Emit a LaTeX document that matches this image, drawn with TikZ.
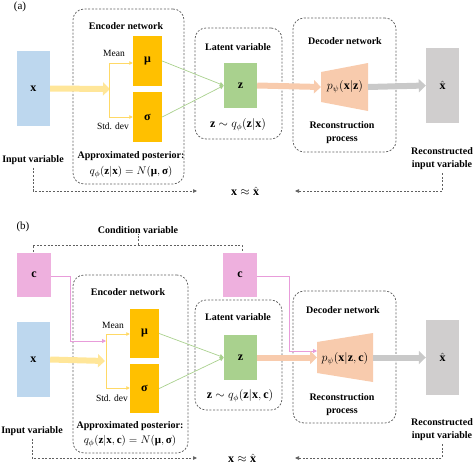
\documentclass[tikz,border=0pt]{standalone}
\usepackage{amsmath}
\usepackage{fontspec}
\setmainfont{Liberation Serif}
\usetikzlibrary{arrows.meta,calc}
\definecolor{cblue}{HTML}{BDD7EE}
\definecolor{corange}{HTML}{FFC000}
\definecolor{cgreen}{HTML}{A9D18E}
\definecolor{csalmon}{HTML}{F8CBAD}
\definecolor{cgraybox}{HTML}{D0CECE}
\definecolor{cgrayarr}{HTML}{C9C9C9}
\definecolor{cyellow}{HTML}{FFE699}
\definecolor{cyelthin}{HTML}{FFD966}
\definecolor{cpink}{HTML}{EEB0DE}
\definecolor{cpinkline}{HTML}{E89CDA}
\definecolor{cdash}{HTML}{606060}
\newcommand{\bmu}{\text{\bfseries μ}}
\newcommand{\bsig}{\text{\bfseries σ}}
\begin{document}
\begin{tikzpicture}[x=1pt,y=-1pt,
  bigbox/.style={inner sep=0pt,minimum width=33pt,minimum height=75pt,font=\fontsize{12}{13}\selectfont\bfseries},
  parbox/.style={fill=corange,inner sep=0pt,minimum width=29pt,minimum height=50pt,font=\fontsize{12}{13}\selectfont\bfseries},
  zbox/.style={fill=cgreen,inner sep=0pt,minimum width=33pt,minimum height=45pt,font=\fontsize{12}{13}\selectfont\bfseries},
  cbox/.style={fill=cpink,inner sep=0pt,minimum width=34pt,minimum height=44pt,font=\fontsize{12}{13}\selectfont\bfseries},
  region/.style={draw=cdash,line width=0.75pt,dash pattern=on 2pt off 1.6pt,rounded corners=11pt,inner sep=0pt},
  lbl/.style={font=\fontsize{10}{12}\selectfont\bfseries,inner sep=0pt,align=center},
  small/.style={font=\fontsize{9.5}{11}\selectfont,inner sep=0pt},
  mth/.style={font=\fontsize{11}{13}\selectfont,inner sep=0pt},
  mthb/.style={font=\fontsize{12}{14}\selectfont,inner sep=0pt},
  thickarr/.style={line width=6pt,-{Triangle[length=7pt,width=13pt]}},
  yelthin/.style={draw=cyelthin,line width=0.8pt},
  yelarr/.style={yelthin,-{Triangle[length=3.5pt,width=3.5pt]}},
  greenarr/.style={draw=cgreen,line width=0.7pt,-{Triangle[length=4pt,width=4pt]}},
  pinkarr/.style={draw=cpinkline,line width=0.8pt,-{Triangle[length=4pt,width=4pt]}},
  dashline/.style={draw=cdash,line width=0.7pt,dash pattern=on 2pt off 1.6pt},
  dasharr/.style={dashline,-{Triangle[length=4pt,width=3.5pt]}},
]
\useasboundingbox (0,0) rectangle (474,467);

% ================= (a) =================
\node[font=\fontsize{11}{12}\selectfont,inner sep=0pt] (tagA) at (20,7) {(a)};

\node[region,minimum width=111pt,minimum height=175pt] (encA) at (128.5,96.5) {};
\node[region,minimum width=87pt,minimum height=111pt] (latA) at (238.5,83.5) {};
\node[region,minimum width=103pt,minimum height=134pt] (decA) at (344.5,85) {};

\node[bigbox,fill=cblue] (xA) at (33.5,88.5) {x};
\node[parbox] (muA) at (147.5,61) {μ};
\node[parbox] (sgA) at (147.5,117) {σ};
\node[zbox] (zA) at (240.5,85.5) {z};
\node[bigbox,fill=cgraybox] (xhA) at (442.5,85.5) {$\hat{\mathbf{x}}$};

\fill[csalmon] (321,72) -- (368,63) -- (368,111) -- (321,102) -- cycle;
\node[mthb] (pA) at (345,87) {$p_{\psi}(\mathbf{x}|\mathbf{z})$};
\coordinate (pAin) at (321,87);
\coordinate (pAout) at (368,87);

\node[lbl] (encAt) at (126,26) {Encoder network};
\node[small] (meanA) at (114,53) {Mean};
\node[small] (stdA) at (113,126) {Std. dev};
\node[lbl] (apA) at (131,156) {Approximated posterior:};
\node[mth] (qA) at (131,172) {$q_{\phi}(\mathbf{z}|\mathbf{x})=N(\bmu,\bsig)$};
\node[lbl] (latAt) at (238,47) {Latent variable};
\node[mthb] (zqA) at (238,125) {$\mathbf{z}\sim q_{\phi}(\mathbf{z}|\mathbf{x})$};
\node[lbl] (decAt) at (345,41) {Decoder network};
\node[lbl] (recA) at (342,133) {Reconstruction\\[1pt]process};
\node[lbl] (inA) at (33,160) {Input variable};
\node[lbl] (rinA) at (442,159) {Reconstructed\\[1pt]input variable};
\node[mthb] (apxA) at (245,191) {$\mathbf{x}\approx\hat{\mathbf{x}}$};

\coordinate (yA) at (110,89);
\draw[thickarr,draw=cyellow,color=cyellow] (xA.east) -- (yA);
\coordinate (brA1) at (109,63);
\coordinate (brA2) at (109,117);
\draw[yelthin] (brA1) -- (brA2);
\draw[yelarr] (brA1) -- (brA1 -| muA.west);
\draw[yelarr] (brA2) -- (brA2 -| sgA.west);
\draw[greenarr] (muA.east) -- (zA.west);
\draw[greenarr] (sgA.east) -- (zA.west);
\draw[thickarr,draw=csalmon,color=csalmon] (zA.east) -- (pAin);
\draw[thickarr,draw=cgrayarr,color=cgrayarr] (pAout) -- (xhA.west);
\coordinate (dA1) at (197,191);
\coordinate (dA2) at (295,191);
\draw[dasharr] ($(inA.south)+(0,3)$) |- (dA1);
\draw[dasharr] ($(rinA.south)+(0,3)$) |- (dA2);

% ================= (b) =================
\node[font=\fontsize{11}{12}\selectfont,inner sep=0pt] (tagB) at (23,227) {(b)};
\node[lbl] (condB) at (138,230) {Condition variable};
\coordinate (cb1) at (33,252);
\coordinate (cb2) at (242,252);
\coordinate (cbm) at (138,245);
\draw[dashline] (cb1) -- (cb1 |- cbm) -- (cb2 |- cbm) -- (cb2);
\draw[dashline] (cbm) -- (condB.south);

\node[region,minimum width=115pt,minimum height=178pt] (encB) at (130.5,364) {};
\node[region,minimum width=87pt,minimum height=110pt] (latB) at (238.5,355) {};
\node[region,minimum width=103pt,minimum height=132pt] (decB) at (344.5,357) {};

\node[cbox] (c1B) at (34,275) {c};
\node[cbox] (c2B) at (240,275) {c};
\node[bigbox,fill=cblue] (xB) at (33.5,359.5) {x};
\node[parbox,minimum height=49pt] (muB) at (144.5,333.5) {μ};
\node[parbox,minimum height=49pt] (sgB) at (144.5,388.5) {σ};
\node[zbox] (zB) at (240.5,357.5) {z};
\node[bigbox,fill=cgraybox] (xhB) at (442.5,357.5) {$\hat{\mathbf{x}}$};

\fill[csalmon] (317,342) -- (373,333) -- (373,382) -- (317,373) -- cycle;
\node[mthb] (pB) at (345,359) {$p_{\psi}(\mathbf{x}|\mathbf{z},\mathbf{c})$};
\coordinate (pBin) at (317,357.5);
\coordinate (pBout) at (373,357.5);

\node[lbl] (encBt) at (128,292) {Encoder network};
\node[small] (meanB) at (113,325) {Mean};
\node[small] (stdB) at (112,398) {Std. dev};
\node[lbl] (apB) at (130,426) {Approximated posterior:};
\node[mth] (qB) at (130,441) {$q_{\phi}(\mathbf{z}|\mathbf{x},\mathbf{c})=N(\bmu,\bsig)$};
\node[lbl] (latBt) at (238,317) {Latent variable};
\node[mthb] (zqB) at (240,396) {$\mathbf{z}\sim q_{\phi}(\mathbf{z}|\mathbf{x},\mathbf{c})$};
\node[lbl] (decBt) at (343,310) {Decoder network};
\node[lbl] (recB) at (342,405) {Reconstruction\\[1pt]process};
\node[lbl] (inB) at (32,431) {Input variable};
\node[lbl] (rinB) at (442,430) {Reconstructed\\[1pt]input variable};
\node[mthb] (apxB) at (242,458) {$\mathbf{x}\approx\hat{\mathbf{x}}$};

\coordinate (yB) at (105,361);
\draw[thickarr,draw=cyellow,color=cyellow] (xB.east) -- (yB);
\coordinate (brB1) at (106,334);
\coordinate (brB2) at (106,388);
\draw[yelthin] (brB1) -- (brB2);
\draw[yelarr] (brB1) -- (brB1 -| muB.west);
\draw[yelarr] (brB2) -- (brB2 -| sgB.west);
\coordinate (pk1) at (70,276);
\coordinate (pk2) at (106,341);
\draw[pinkarr] (c1B.east |- pk1) -- (pk1) |- (pk2);
\coordinate (pk3) at (289,276);
\coordinate (pk4) at (317,351);
\draw[pinkarr] (c2B.east |- pk3) -- (pk3) |- (pk4);
\draw[greenarr] (muB.east) -- (zB.west);
\draw[greenarr] (sgB.east) -- (zB.west);
\draw[thickarr,draw=csalmon,color=csalmon] (zB.east) -- (pBin);
\draw[thickarr,draw=cgrayarr,color=cgrayarr] (pBout) -- (xhB.west);
\coordinate (dB1) at (197,458);
\coordinate (dB2) at (295,458);
\draw[dasharr] ($(inB.south)+(0,3)$) |- (dB1);
\draw[dasharr] ($(rinB.south)+(0,3)$) |- (dB2);
\end{tikzpicture}
\end{document}
